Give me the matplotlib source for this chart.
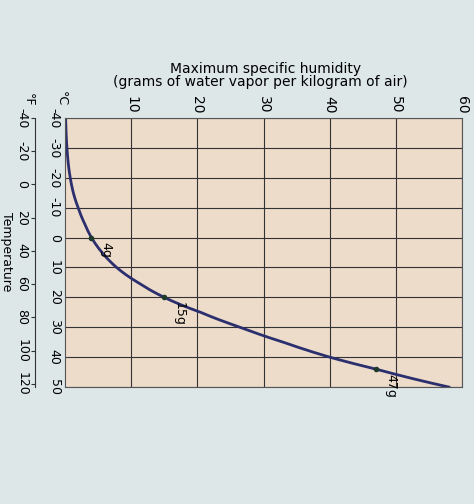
import matplotlib.pyplot as plt
import numpy as np

# temperature (°C) vs maximum specific humidity (g/kg)
temp_c = [-40, -30, -20, -10, -5, 0, 5, 10, 15, 20, 25, 30, 35, 40, 44, 50]
humidity = [0.1, 0.3, 0.8, 2.0, 2.9, 4.0, 5.6, 7.8, 11.0, 15.0, 20.5, 26.5, 33.0, 40.0, 47.0, 58.0]
marked_t = [0, 20, 44]
marked_h = [4, 15, 47]
marked_lbl = ["4g", "15g", "47g"]
hum_ticks = [10, 20, 30, 40, 50, 60]
c_ticks = [-40, -30, -20, -10, 0, 10, 20, 30, 40, 50]
f_ticks = [-40, -20, 0, 20, 40, 60, 80, 100, 120]

fig = plt.figure(figsize=(4.74, 5.04), dpi=100, facecolor="#dde7e8")
ax = fig.add_axes([0.137, 0.232, 0.838, 0.534])
ax.set_facecolor("#eedccb")

# interpolate between the read points in log space so the curve looks smooth
tt = np.linspace(-40, 50, 300)
hh = np.exp(np.interp(tt, temp_c, np.log(humidity)))
ax.plot(hh, tt, color="#2b2f6e", lw=2)
ax.plot(marked_h, marked_t, "o", color="#1d3a2a", ms=3)
for h, t, s in zip(marked_h, marked_t, marked_lbl):
    ax.text(h + 1.2, t + 1.5, s, rotation=270, fontsize=9, va="top", ha="left")

ax.set_xlim(0, 60)
ax.set_ylim(50, -40)
ax.xaxis.tick_top()
ax.set_xticks(hum_ticks)
ax.set_xticklabels([str(v) for v in hum_ticks], rotation=270, fontsize=10)
ax.set_yticks(c_ticks)
ax.set_yticklabels([str(v) for v in c_ticks], rotation=270, fontsize=9, va="center")
ax.tick_params(length=0, pad=3)
ax.grid(True, color="#333333", lw=0.8)
for s in ax.spines.values():
    s.set_color("#555555")

sec = ax.secondary_yaxis(-0.075, functions=(lambda c: c * 9 / 5 + 32, lambda f: (f - 32) * 5 / 9))
sec.set_yticks(f_ticks)
sec.set_yticklabels([str(v) for v in f_ticks], rotation=270, fontsize=9, va="center")
sec.tick_params(length=3, pad=2, color="#333333")
sec.spines["left"].set_color("#333333")

fig.text(0.115, 0.795, "°C", rotation=270, fontsize=9)
fig.text(0.045, 0.795, "°F", rotation=270, fontsize=9)
fig.text(0.0, 0.5, "Temperature", rotation=270, fontsize=9, va="center")
fig.text(0.56, 0.855, "Maximum specific humidity", ha="center", fontsize=10)
fig.text(0.55, 0.83, "(grams of water vapor per kilogram of air)", ha="center", fontsize=10)

fig.savefig("out.png", dpi=100, facecolor=fig.get_facecolor())
